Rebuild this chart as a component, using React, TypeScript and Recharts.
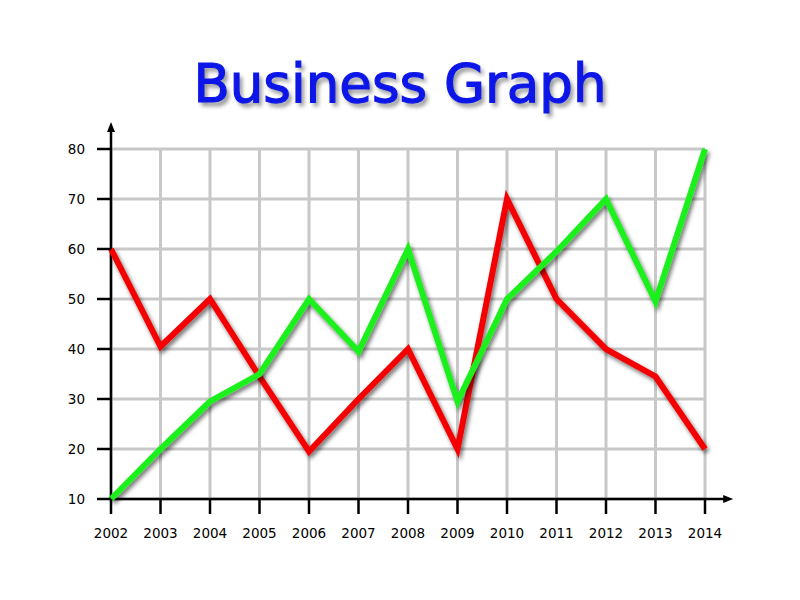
import { LineChart, Line, XAxis, YAxis, CartesianGrid, ReferenceLine } from 'recharts'

const YEARS = [2002, 2003, 2004, 2005, 2006, 2007, 2008, 2009, 2010, 2011, 2012, 2013, 2014]
const RED = [60, 40.5, 50, 34.5, 19.5, 30, 40, 20, 70, 50, 40, 34.5, 20]
const GREEN = [10, 20, 29.5, 35, 50, 39.5, 60, 29.5, 50, 59.5, 70, 49.5, 80]
const Y_TICKS = [10, 20, 30, 40, 50, 60, 70, 80]

const FONT = '"DejaVu Sans", Verdana, sans-serif'

const data = YEARS.map((year, i) => ({ year, red: RED[i], green: GREEN[i] }))

// black axis line ending in a filled arrowhead
function Arrow(props: any) {
  const { x1, y1, x2, y2 } = props
  const len = Math.hypot(x2 - x1, y2 - y1) || 1
  const ux = (x2 - x1) / len
  const uy = (y2 - y1) / len
  const head = 10
  const half = 4
  const bx = x2 - ux * head
  const by = y2 - uy * head
  return (
    <g>
      <line x1={x1} y1={y1} x2={bx + ux * 2} y2={by + uy * 2} stroke="#000" strokeWidth={2.5} />
      <polygon
        points={`${x2},${y2} ${bx - uy * half},${by + ux * half} ${bx + uy * half},${by - ux * half}`}
        fill="#000"
      />
    </g>
  )
}

export default function App() {
  return (
    <div style={{ position: 'absolute', left: 0, top: 0, width: 800, height: 600, background: '#fff' }}>
      <div
        style={{
          position: 'absolute',
          top: 54,
          left: 0,
          width: 800,
          textAlign: 'center',
          fontFamily: FONT,
          fontSize: 53,
          lineHeight: '60px',
          color: '#0c16e8',
          WebkitTextStroke: '1.2px #0c16e8',
          textShadow: '3px 4px 4px rgba(0,0,0,0.45)',
        }}
      >
        Business Graph
      </div>
      <LineChart
        width={800}
        height={600}
        data={data}
        margin={{ top: 149, right: 95, bottom: 61, left: 51 }}
        style={{ position: 'absolute', left: 0, top: 0 }}
      >
        <defs>
          <filter id="lineShadow" x="-10%" y="-10%" width="120%" height="120%">
            <feDropShadow dx="2" dy="3" stdDeviation="2" floodColor="#000" floodOpacity="0.55" />
          </filter>
        </defs>
        <CartesianGrid stroke="#c8c8c8" strokeWidth={3} />
        <XAxis
          dataKey="year"
          type="number"
          domain={[2002, 2014]}
          ticks={YEARS}
          interval={0}
          height={40}
          axisLine={false}
          tickSize={15}
          tickMargin={14}
          tickLine={{ stroke: '#000', strokeWidth: 2.5 }}
          tick={{ fill: '#000', fontSize: 13.5, fontFamily: FONT }}
        />
        <YAxis
          type="number"
          domain={[10, 80]}
          ticks={Y_TICKS}
          interval={0}
          width={60}
          axisLine={false}
          tickSize={14}
          tickMargin={12}
          tickLine={{ stroke: '#000', strokeWidth: 2.5 }}
          tick={{ fill: '#000', fontSize: 13.5, fontFamily: FONT }}
        />
        <ReferenceLine
          segment={[{ x: 2002, y: 10 }, { x: 2002, y: 85.4 }]}
          ifOverflow="visible"
          shape={Arrow}
        />
        <ReferenceLine
          segment={[{ x: 2002, y: 10 }, { x: 2014.57, y: 10 }]}
          ifOverflow="visible"
          shape={Arrow}
        />
        <Line
          type="linear"
          dataKey="red"
          stroke="#f40000"
          strokeWidth={6}
          strokeLinejoin="miter"
          dot={false}
          activeDot={false}
          filter="url(#lineShadow)"
          isAnimationActive={false}
        />
        <Line
          type="linear"
          dataKey="green"
          stroke="#1ef01e"
          strokeWidth={6}
          strokeLinejoin="miter"
          dot={false}
          activeDot={false}
          filter="url(#lineShadow)"
          isAnimationActive={false}
        />
      </LineChart>
    </div>
  )
}
